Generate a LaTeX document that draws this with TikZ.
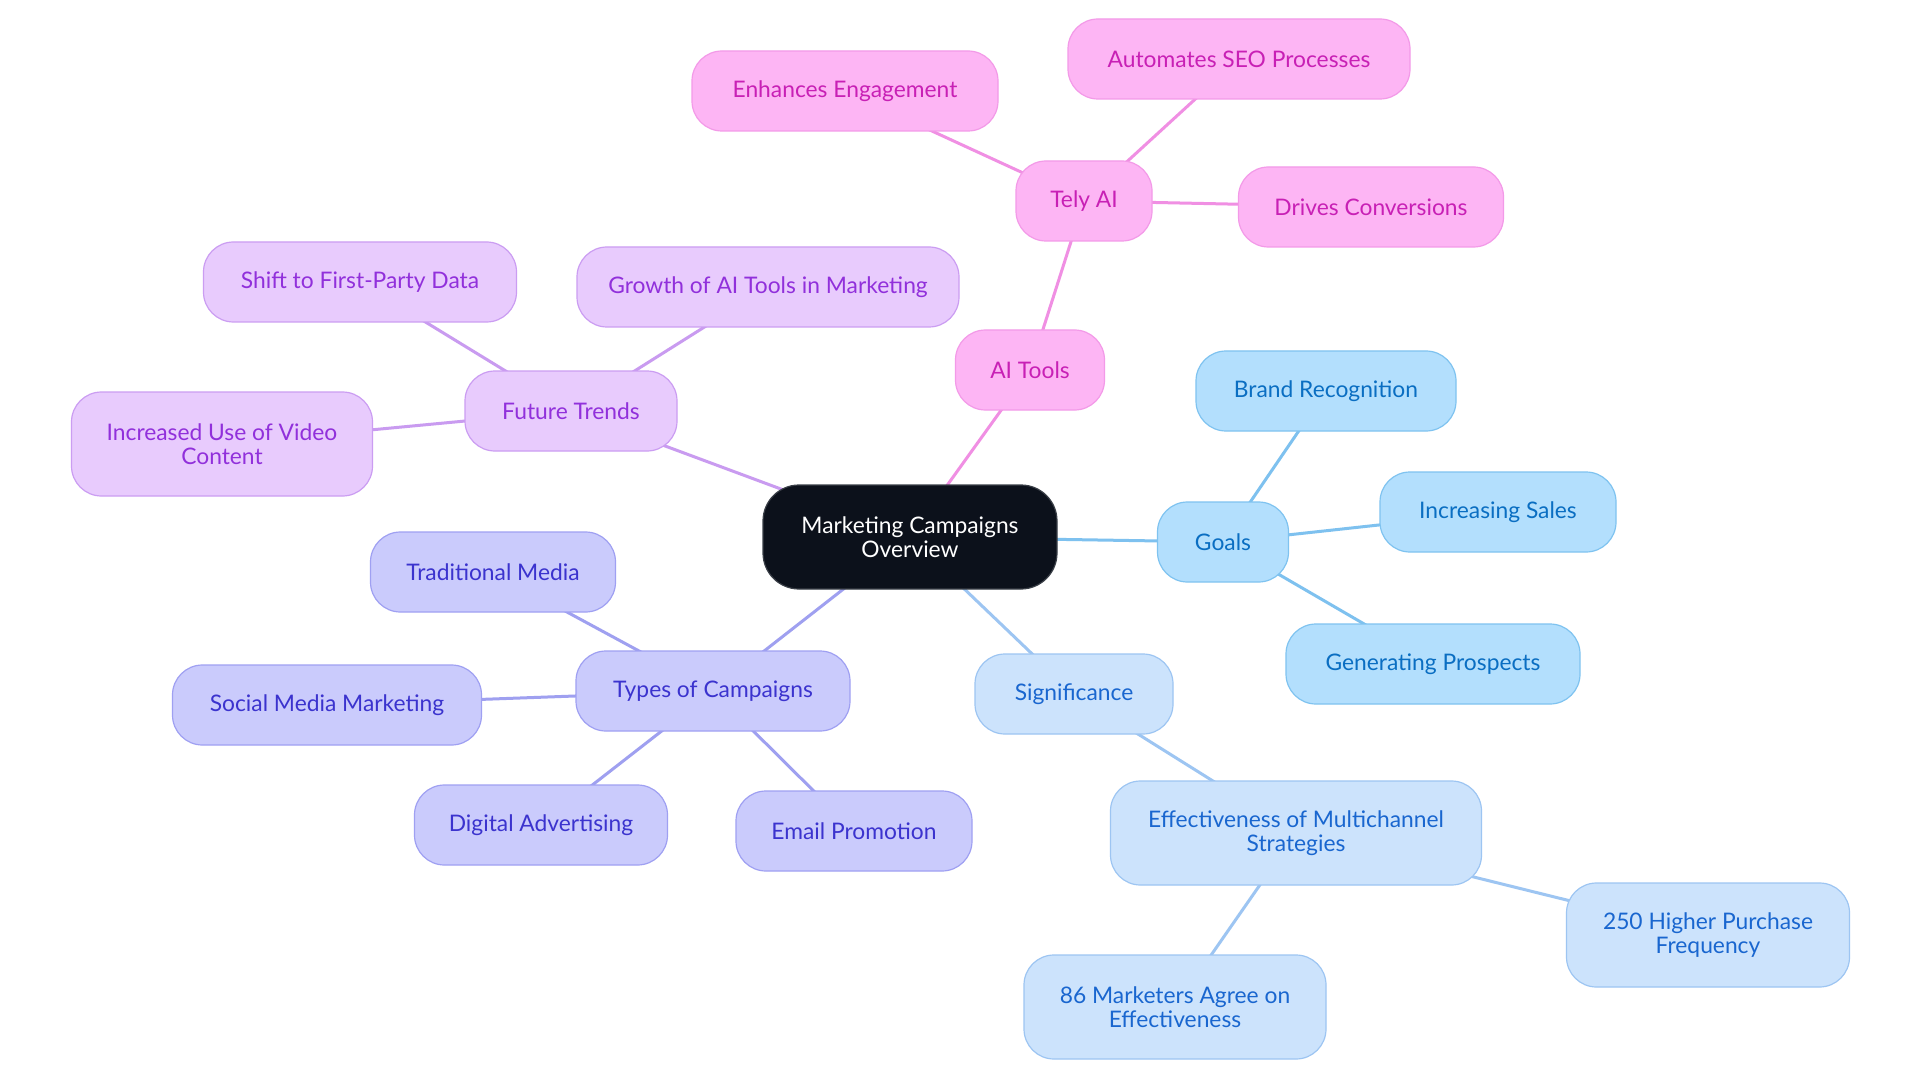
\documentclass[tikz,border=0pt]{standalone}
\usepackage{fontspec}
\setmainfont{Lato}
\usetikzlibrary{backgrounds}
\definecolor{pkF}{HTML}{FDB5F4}\definecolor{pkD}{HTML}{F39AE8}\definecolor{pkT}{HTML}{C820B5}\definecolor{pkE}{HTML}{F08FE3}
\definecolor{puF}{HTML}{E8CBFD}\definecolor{puD}{HTML}{CB9DF2}\definecolor{puT}{HTML}{9130DB}\definecolor{puE}{HTML}{C99BF0}
\definecolor{inF}{HTML}{CACBFC}\definecolor{inD}{HTML}{9FA0F2}\definecolor{inT}{HTML}{3B33CE}\definecolor{inE}{HTML}{9FA0F0}
\definecolor{gbF}{HTML}{B3DFFD}\definecolor{gbD}{HTML}{7FC3F0}\definecolor{gbT}{HTML}{0A6EC2}\definecolor{gbE}{HTML}{7EC1EF}
\definecolor{sbF}{HTML}{CCE3FC}\definecolor{sbD}{HTML}{9DC5F2}\definecolor{sbT}{HTML}{1966CF}\definecolor{sbE}{HTML}{9DC5F2}
\definecolor{ctF}{HTML}{0C111B}\definecolor{ctD}{HTML}{3A3F47}
\begin{document}
\begin{tikzpicture}[x=1pt,y=-1pt,
  base/.style={rounded corners=30pt, line width=1.2pt, align=center, inner sep=0pt, minimum height=80pt, font=\fontsize{22.8}{24.5}\selectfont},
  tall/.style={minimum height=104pt},
  pinkn/.style={base, fill=pkF, draw=pkD, text=pkT},
  purn/.style={base, fill=puF, draw=puD, text=puT},
  indn/.style={base, fill=inF, draw=inD, text=inT},
  goaln/.style={base, fill=gbF, draw=gbD, text=gbT},
  sign/.style={base, fill=sbF, draw=sbD, text=sbT},
  centern/.style={base, fill=ctF, draw=ctD, text=white, rounded corners=36pt},
  link/.style={line width=3pt}]
\useasboundingbox (0,0) rectangle (1920,1083);
% center
\node[centern, tall, minimum width=294pt] (c) at (910,537) {Marketing Campaigns\\Overview};
% AI tools branch
\node[pinkn, minimum width=149pt] (ai) at (1030,370) {AI Tools};
\node[pinkn, minimum width=136pt] (tely) at (1084,201) {Tely AI};
\node[pinkn, minimum width=306pt] (enh) at (845,91) {Enhances Engagement};
\node[pinkn, minimum width=342pt] (seo) at (1239,59) {Automates SEO Processes};
\node[pinkn, minimum width=265pt] (conv) at (1371,207) {Drives Conversions};
% future trends
\node[purn, minimum width=212pt] (ft) at (571,411) {Future Trends};
\node[purn, minimum width=313pt] (fp) at (360,282) {Shift to First-Party Data};
\node[purn, minimum width=382pt] (gai) at (768,287) {Growth of AI Tools in Marketing};
\node[purn, tall, minimum width=301pt] (vid) at (222,444) {Increased Use of Video\\Content};
% goals
\node[goaln, minimum width=131pt] (goals) at (1223,542) {Goals};
\node[goaln, minimum width=260pt] (brand) at (1326,391) {Brand Recognition};
\node[goaln, minimum width=236pt] (sales) at (1498,512) {Increasing Sales};
\node[goaln, minimum width=294pt] (pros) at (1433,664) {Generating Prospects};
% significance
\node[sign, minimum width=198pt] (sig) at (1074,694) {Significance};
\node[sign, tall, minimum width=371pt] (eff) at (1296,833) {Effectiveness of Multichannel\\Strategies};
\node[sign, tall, minimum width=283pt] (hp) at (1708,935) {250 Higher Purchase\\Frequency};
\node[sign, tall, minimum width=302pt] (mk) at (1175,1007) {86 Marketers Agree on\\Effectiveness};
% types
\node[indn, minimum width=274pt] (types) at (713,691) {Types of Campaigns};
\node[indn, minimum width=245pt] (trad) at (493,572) {Traditional Media};
\node[indn, minimum width=309pt] (soc) at (327,705) {Social Media Marketing};
\node[indn, minimum width=253pt] (dig) at (541,825) {Digital Advertising};
\node[indn, minimum width=236pt] (email) at (854,831) {Email Promotion};
\begin{pgfonlayer}{background}
\fill[white] (0,0) rectangle (1920,1083);
\draw[link, pkE] (c.center) -- (ai.center) (ai.center) -- (tely.center) (tely.center) -- (enh.center) (tely.center) -- (seo.center) (tely.center) -- (conv.center);
\draw[link, puE] (c.center) -- (ft.center) (ft.center) -- (fp.center) (ft.center) -- (gai.center) (ft.center) -- (vid.center);
\draw[link, gbE] (c.center) -- (goals.center) (goals.center) -- (brand.center) (goals.center) -- (sales.center) (goals.center) -- (pros.center);
\draw[link, sbE] (c.center) -- (sig.center) (sig.center) -- (eff.center) (eff.center) -- (hp.center) (eff.center) -- (mk.center);
\draw[link, inE] (c.center) -- (types.center) (types.center) -- (trad.center) (types.center) -- (soc.center) (types.center) -- (dig.center) (types.center) -- (email.center);
\end{pgfonlayer}
\end{tikzpicture}
\end{document}
